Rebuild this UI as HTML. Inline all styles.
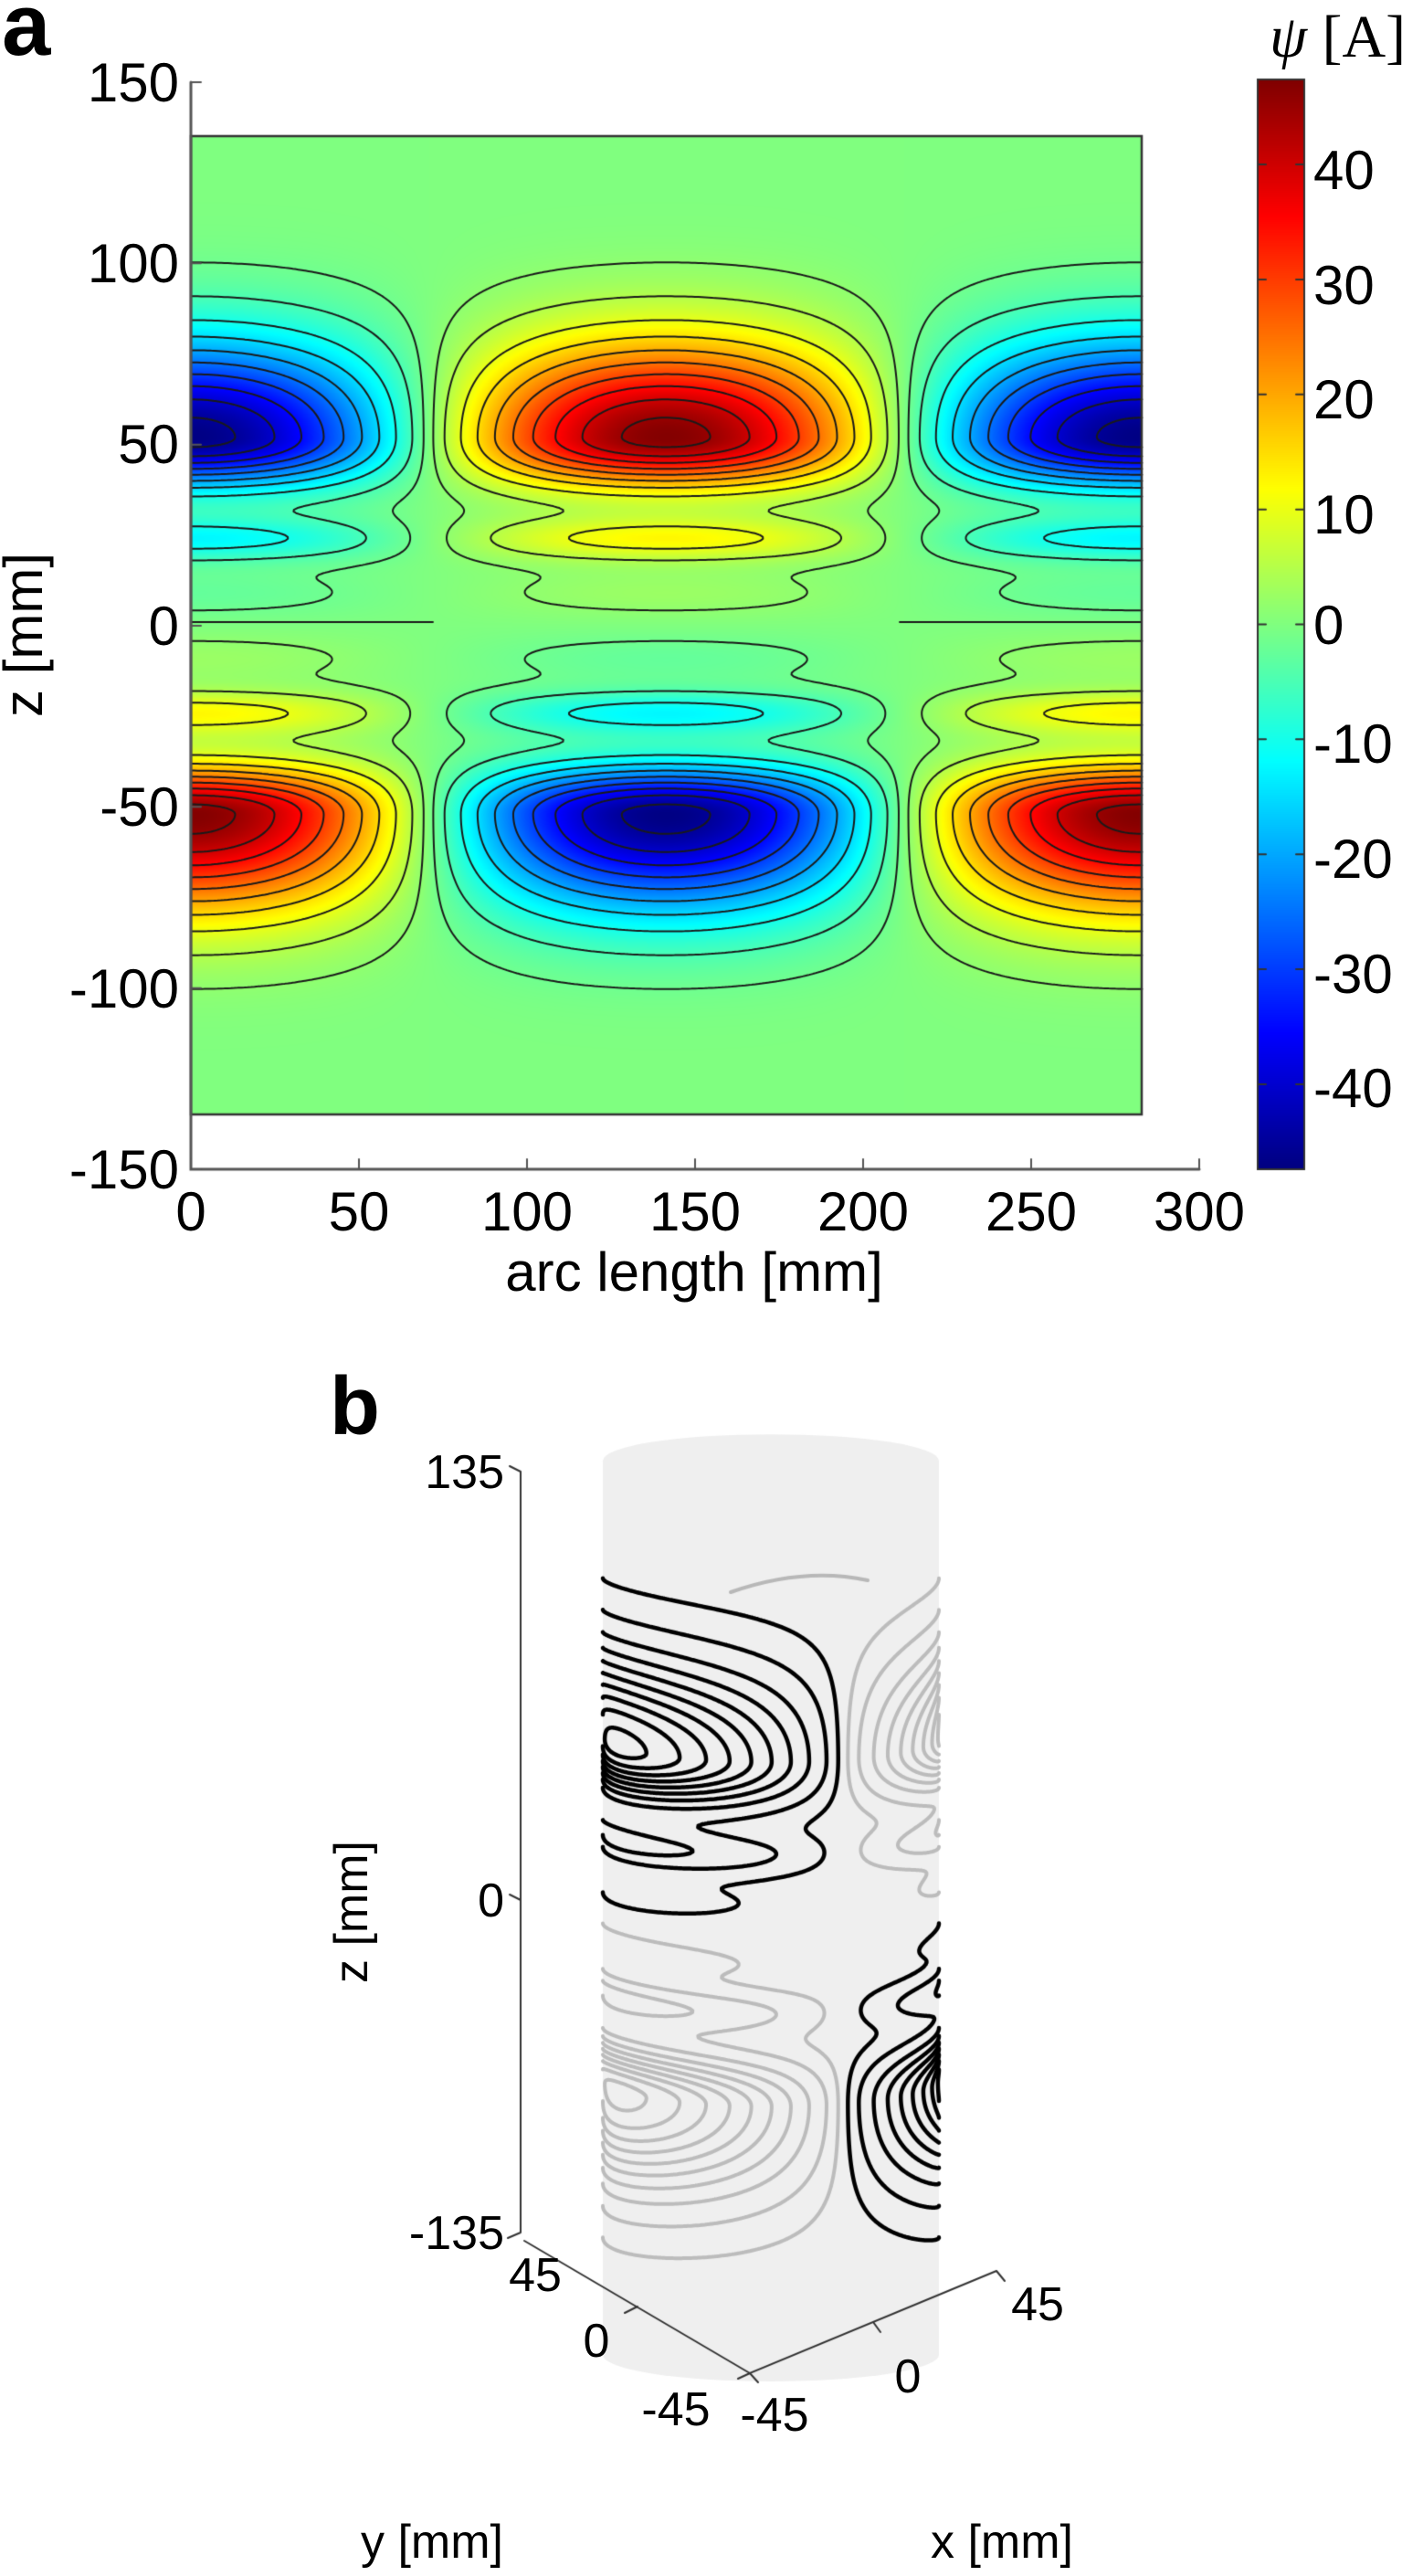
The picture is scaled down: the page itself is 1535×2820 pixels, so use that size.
<!DOCTYPE html>
<html><head><meta charset="utf-8">
<style>
html,body{margin:0;padding:0;background:#fff;}
#wrap{position:relative;width:1535px;height:2820px;overflow:hidden;}
canvas,svg{position:absolute;left:0;top:0;}
</style></head>
<body><div id="wrap">
<canvas id="c" width="1535" height="2820"></canvas>
<svg width="1535" height="2820" font-family="'Liberation Sans', Arial, sans-serif">
<text x="2" y="60" font-size="96" font-weight="bold">a</text>
<g font-size="60" text-anchor="end">
<text x="196" y="111">150</text>
<text x="196" y="309">100</text>
<text x="196" y="507">50</text>
<text x="196" y="706">0</text>
<text x="196" y="904">-50</text>
<text x="196" y="1103">-100</text>
<text x="196" y="1301">-150</text>
</g>
<g font-size="60" text-anchor="middle">
<text x="209" y="1347">0</text>
<text x="393" y="1347">50</text>
<text x="577" y="1347">100</text>
<text x="761" y="1347">150</text>
<text x="945" y="1347">200</text>
<text x="1129" y="1347">250</text>
<text x="1313" y="1347">300</text>
<text x="760" y="1413">arc length [mm]</text>
<text transform="translate(46,695) rotate(-90)">z [mm]</text>
</g>
<g font-size="60" text-anchor="start">
<text x="1438" y="207">40</text>
<text x="1438" y="333">30</text>
<text x="1438" y="458">20</text>
<text x="1438" y="584">10</text>
<text x="1438" y="705">0</text>
<text x="1438" y="835">-10</text>
<text x="1438" y="961">-20</text>
<text x="1438" y="1087">-30</text>
<text x="1438" y="1212">-40</text>
</g>
<text x="1390" y="62" font-size="66" font-family="'Liberation Serif', serif"><tspan font-style="italic">ψ</tspan> [A]</text>

<text x="361" y="1570" font-size="90" font-weight="bold">b</text>
<g font-size="52" text-anchor="end">
<text x="552" y="1629">135</text>
<text x="552" y="2098">0</text>
<text x="552" y="2462">-135</text>
</g>
<g font-size="52" text-anchor="middle">
<text x="586" y="2508">45</text>
<text x="653" y="2580">0</text>
<text x="740" y="2655">-45</text>
<text x="848" y="2661">-45</text>
<text x="994" y="2619">0</text>
<text x="1136" y="2540">45</text>
<text x="473" y="2800">y [mm]</text>
<text x="1097" y="2800">x [mm]</text>
<text transform="translate(402,2093) rotate(-90)">z [mm]</text>
</g>
</svg>
</div>
<script>
(function(){
var cv=document.getElementById('c'),ctx=cv.getContext('2d');
var L=282.7;
function H(z){var d=z-52,w=d>0?26:13;return 47*Math.exp(-(d/w)*(d/w))+12*Math.exp(-((z-24)/6)*((z-24)/6))+2.5*Math.exp(-((z-9)/7)*((z-9)/7));}
function psi(s,z){return -Math.cos(2*Math.PI*s/L)*(H(z)-H(-z));}
function cl(v){return v<0?0:v>1?1:v;}
function jet(v){return [cl(1.5-Math.abs(4*v-3)),cl(1.5-Math.abs(4*v-2)),cl(1.5-Math.abs(4*v-1))];}
var VM=47.4;
var X0=209,X1=1250,Y0=149,Y1=1220,kx=3.68,kz=3.967,zc=685;
var img=ctx.createImageData(X1-X0,Y1-Y0);
for(var j=0;j<Y1-Y0;j++){var z=(zc-(Y0+j))/kz;for(var i=0;i<X1-X0;i++){var s=i/kx;var c=jet(cl((psi(s,z)+VM)/(2*VM)));var p=4*(j*(X1-X0)+i);img.data[p]=c[0]*255;img.data[p+1]=c[1]*255;img.data[p+2]=c[2]*255;img.data[p+3]=255;}}
ctx.putImageData(img,X0,Y0);
var levels=[1.5,5,10,15,20,25,30,35,40,45];levels=levels.concat(levels.map(function(v){return -v;}));
function contours(s0,s1,z0,z1,ds,dz,proj,styleFn){
 var ns=Math.round((s1-s0)/ds),nz=Math.round((z1-z0)/dz);
 var g=[];for(var a=0;a<=ns;a++){g[a]=[];for(var b=0;b<=nz;b++)g[a][b]=psi(s0+a*ds,z0+b*dz);}
 levels.forEach(function(Lv){
  if(!styleFn(Lv))return;ctx.beginPath();
  for(var a=0;a<ns;a++)for(var b=0;b<nz;b++){
   var v=[g[a][b]-Lv,g[a+1][b]-Lv,g[a+1][b+1]-Lv,g[a][b+1]-Lv];
   var P=[[0,0],[1,0],[1,1],[0,1]],pts=[];
   for(var e=0;e<4;e++){var f=(e+1)%4;if((v[e]>0)!=(v[f]>0)){var t=v[e]/(v[e]-v[f]);pts.push([P[e][0]+t*(P[f][0]-P[e][0]),P[e][1]+t*(P[f][1]-P[e][1])]);}}
   for(var k=0;k+1<pts.length;k+=2){var p1=proj(s0+(a+pts[k][0])*ds,z0+(b+pts[k][1])*dz),p2=proj(s0+(a+pts[k+1][0])*ds,z0+(b+pts[k+1][1])*dz);ctx.moveTo(p1[0],p1[1]);ctx.lineTo(p2[0],p2[1]);}
  }
  ctx.stroke();
 });
}
ctx.lineCap='round';
contours(0,L,-135,135,1,0.5,function(s,z){return [X0+s*kx,zc-z*kz];},function(){ctx.strokeStyle='#1a1a1a';ctx.lineWidth=2;return true;});
ctx.strokeStyle='#1a1a1a';ctx.lineWidth=2;ctx.beginPath();ctx.moveTo(X0,zc-1*kz);ctx.lineTo(X0+72*kx,zc-1*kz);ctx.moveTo(X1,zc-1*kz);ctx.lineTo(X1-72*kx,zc-1*kz);ctx.stroke();
ctx.strokeStyle='#333';ctx.lineWidth=2.5;ctx.strokeRect(X0,Y0,X1-X0,Y1-Y0);
ctx.strokeStyle='#555';ctx.lineWidth=3;
ctx.beginPath();ctx.moveTo(X0,90);ctx.lineTo(X0,1280);ctx.lineTo(1313,1280);ctx.stroke();
ctx.lineWidth=2;ctx.beginPath();
for(var zz=-150;zz<=150;zz+=50){var y=zc-zz*kz;ctx.moveTo(X0,y);ctx.lineTo(X0+11,y);}
for(var xx=0;xx<=300;xx+=50){var x=X0+xx*kx;ctx.moveTo(x,1280);ctx.lineTo(x,1269);}
ctx.stroke();
var CB0=87,CB1=1280,CX0=1377,CX1=1428;
for(var y=CB0;y<CB1;y++){var c=jet((CB1-y)/(CB1-CB0));ctx.fillStyle='rgb('+Math.round(c[0]*255)+','+Math.round(c[1]*255)+','+Math.round(c[2]*255)+')';ctx.fillRect(CX0,y,CX1-CX0,1);}
ctx.strokeStyle='#333';ctx.lineWidth=2;ctx.strokeRect(CX0,CB0,CX1-CX0,CB1-CB0);
ctx.beginPath();for(var t=-40;t<=40;t+=10){var y=(CB0+CB1)/2-t*(CB1-CB0)/(2*VM);ctx.moveTo(CX0,y);ctx.lineTo(CX0+9,y);ctx.moveTo(CX1,y);ctx.lineTo(CX1-9,y);}ctx.stroke();
// panel b
var cx=844,R=184,y0=2088.5,k=3.625,e=29;
var yt=y0-135*k,yb=y0+135*k;
ctx.fillStyle='#efefef';
ctx.beginPath();ctx.ellipse(cx,yt,R,e,0,0,2*Math.PI);ctx.fill();
ctx.beginPath();ctx.ellipse(cx,yb,R,e,0,0,2*Math.PI);ctx.fill();
ctx.fillRect(cx-R,yt,2*R,yb-yt);
ctx.strokeStyle='#b8b8b8';ctx.lineWidth=4;ctx.beginPath();ctx.moveTo(800,1743);ctx.quadraticCurveTo(880,1715,950,1730);ctx.stroke();
var SL=-20;
function projb(s,z){var th=(s-SL)/45;return [cx-R*Math.cos(th),y0-k*z+e*Math.sin(th)];}
contours(SL,SL+L/2,-120,120,0.7,0.5,projb,function(Lv){if(Lv>0){ctx.strokeStyle='#bcbcbc';ctx.lineWidth=4;return true;}return false;});
contours(SL,SL+L/2,-120,120,0.7,0.5,projb,function(Lv){if(Lv<0){ctx.strokeStyle='#000';ctx.lineWidth=4.5;return true;}return false;});
ctx.strokeStyle='#333';ctx.lineWidth=2;
ctx.beginPath();ctx.moveTo(570,1611);ctx.lineTo(570,2444);
ctx.moveTo(574,2453);ctx.lineTo(821,2598);ctx.lineTo(1091,2486);
ctx.moveTo(570,1611);ctx.lineTo(558,1605);ctx.moveTo(570,2080);ctx.lineTo(558,2074);ctx.moveTo(570,2444);ctx.lineTo(556,2450);
ctx.moveTo(698,2525);ctx.lineTo(684,2532);ctx.moveTo(956,2542);ctx.lineTo(964,2553);
ctx.moveTo(821,2598);ctx.lineTo(808,2604);ctx.moveTo(821,2598);ctx.lineTo(830,2608);
ctx.moveTo(1091,2486);ctx.lineTo(1100,2497);
ctx.stroke();
})();
</script>
</body></html>
